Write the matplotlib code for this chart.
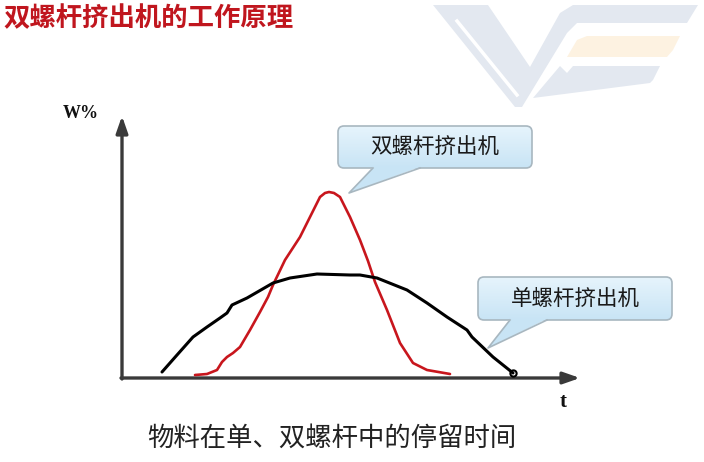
import numpy as np
import matplotlib
matplotlib.use("Agg")
import matplotlib.pyplot as plt
from matplotlib.patches import FancyBboxPatch, Polygon

plt.rcParams['font.family'] = ['Noto Sans CJK SC', 'DejaVu Sans']

# ----------------------------
# Data (t and W in the chart's own units)
# ----------------------------
twin_t = [73, 85, 95, 100, 105, 111, 118, 128, 138, 146, 151, 163, 178, 190,
          198, 203, 207, 212, 218, 228, 238, 246, 253, 265, 278, 291, 305, 328]
twin_w = [3, 4, 8, 16, 21, 25, 31, 48, 66, 81, 93, 118, 141, 165,
          181, 185, 186, 185, 181, 161, 138, 117, 96, 68, 35, 15, 8, 4]

single_t = [40, 55, 71, 85, 98, 105, 110, 125, 151, 168, 195, 228, 238,
            255, 285, 305, 325, 345, 350, 371, 391]
single_w = [6, 23, 41, 51, 60, 65, 73, 80, 95, 100, 104, 103, 103,
            100, 88, 75, 61, 48, 41, 21, 5]

title = "双螺杆挤出机的工作原理"
label_twin = "双螺杆挤出机"
label_single = "单螺杆挤出机"
x_caption = "物料在单、双螺杆中的停留时间"

# ----------------------------
# Figure: one data unit = one pixel, origin at the axes corner
# ----------------------------
fig = plt.figure(figsize=(7.04, 4.62), dpi=100)
ax = fig.add_axes([0, 0, 1, 1])
ax.set_xlim(-122, 582)
ax.set_ylim(-84, 378)
ax.axis("off")

# faint logo watermark (top right)
logo_blue = "#e3e8f0"
ax.add_patch(Polygon([(311, 373), (366, 373), (408, 311), (438, 365), (451, 373),
                      (576, 373), (565, 355), (455, 355), (445, 345), (400, 271),
                      (393, 271)], closed=True, fc=logo_blue, ec="none", zorder=0))
ax.add_patch(Polygon([(438, 312), (445, 305), (451, 312), (538, 312), (531, 298),
                      (528, 295), (411, 280)], closed=True, fc=logo_blue, ec="none", zorder=0))
ax.plot([335, 395], [357, 283], color="white", lw=2.5, zorder=0.5)
ax.add_patch(Polygon([(445, 321), (455, 338), (465, 342), (558, 342), (551, 328),
                      (545, 321)], closed=True, fc="#fdf2e1", ec="none", zorder=0))

# axes with arrow heads
axis_col = "#3a3a3a"
ax.annotate("", xy=(0, 262), xytext=(0, -1),
            arrowprops=dict(arrowstyle="-|>,head_length=1.0,head_width=0.35",
                            color=axis_col, lw=2.4, shrinkA=0, shrinkB=0))
ax.annotate("", xy=(458, 0), xytext=(-1, 0),
            arrowprops=dict(arrowstyle="-|>,head_length=1.0,head_width=0.35",
                            color=axis_col, lw=2.4, shrinkA=0, shrinkB=0))

# curves
ax.plot(twin_t, twin_w, color="#c8161d", lw=1.9, solid_capstyle="round",
        solid_joinstyle="round", zorder=3)
ax.plot(single_t, single_w, color="black", lw=2.2, solid_capstyle="round",
        solid_joinstyle="round", zorder=3)
ax.plot(single_t[-1], single_w[-1], marker="o", ms=4.5, mfc="none", mec="black",
        mew=1.5, zorder=4)


def callout(x0, y0, w, h, tail, text):
    grad = np.linspace(0, 1, 64).reshape(-1, 1)
    cmap = matplotlib.colors.LinearSegmentedColormap.from_list(
        "c", ["#c8e4f5", "#e6f4fc"])
    box = FancyBboxPatch((x0, y0), w, h, boxstyle="round,pad=0,rounding_size=6",
                         fc="none", ec="#a8b7c0", lw=1.2, zorder=6)
    ax.add_patch(box)
    im = ax.imshow(grad, extent=(x0, x0 + w, y0, y0 + h), origin="lower",
                   cmap=cmap, aspect="auto", zorder=5)
    im.set_clip_path(box)
    (bx1, bx2), tip = tail
    ax.add_patch(Polygon([(bx1, y0 + 1), tip, (bx2, y0 + 1)], closed=True,
                         fc="#c8e4f5", ec="none", zorder=7))
    ax.plot([bx1, tip[0], bx2], [y0, tip[1], y0], color="#a8b7c0", lw=1.2, zorder=7)
    ax.text(x0 + w / 2, y0 + h / 2, text, ha="center", va="center",
            fontsize=15.5, color="#1a1a1a", zorder=8)


callout(216, 210, 194, 42, ((251, 298), (227, 185)), label_twin)
callout(356, 58, 194, 43, ((388, 425), (366, 30)), label_single)

# axis labels
ax.text(-41, 264, "W%", fontsize=13, fontweight="bold", family="Liberation Serif",
        ha="center", va="center", color="#111")
ax.text(441, -24, "t", fontsize=15, fontweight="bold", family="Liberation Serif",
        ha="center", va="center", color="#111")
ax.text(210, -60, x_caption, fontsize=19, ha="center", va="center", color="#222")

# title
ax.text(-119, 359, title, fontsize=19, fontweight="bold", color="#c0161e",
        ha="left", va="center")

fig.savefig("out.png", dpi=100)
